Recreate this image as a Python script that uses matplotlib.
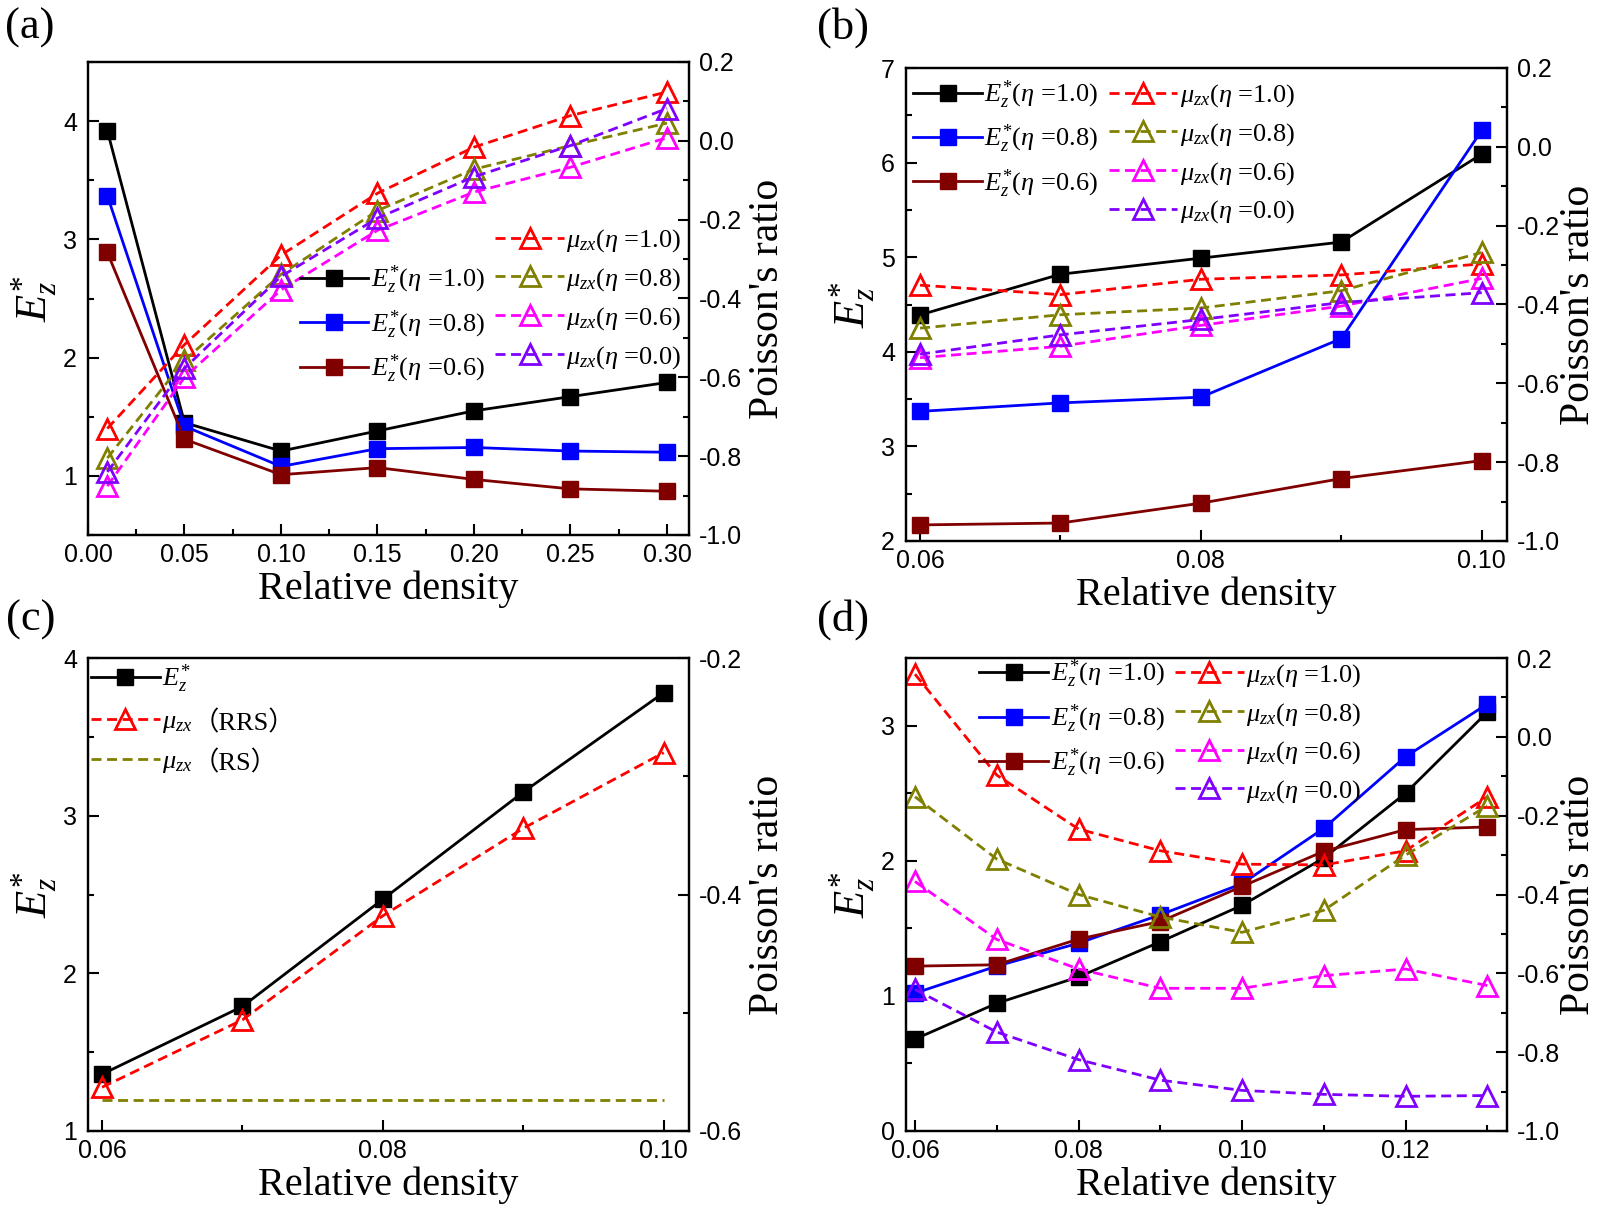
import matplotlib
matplotlib.use("Agg")
import matplotlib.pyplot as plt
from matplotlib.lines import Line2D
from matplotlib.ticker import MultipleLocator, FormatStrFormatter

plt.rcParams['font.family'] = ['Liberation Serif', 'Noto Sans CJK SC']
plt.rcParams['mathtext.fontset'] = 'custom'
plt.rcParams['mathtext.rm'] = 'Liberation Serif'
plt.rcParams['mathtext.it'] = 'Liberation Serif:italic'
plt.rcParams['mathtext.bf'] = 'Liberation Serif:bold'
plt.rcParams['axes.unicode_minus'] = False

# ---- data ----
a_x = [0.01, 0.05, 0.10, 0.15, 0.20, 0.25, 0.30]
a_E10 = [3.92, 1.45, 1.21, 1.38, 1.55, 1.67, 1.79]
a_E08 = [3.37, 1.42, 1.08, 1.23, 1.24, 1.21, 1.20]
a_E06 = [2.89, 1.31, 1.01, 1.07, 0.97, 0.89, 0.87]
a_mu10 = [-0.73, -0.517, -0.29, -0.133, -0.016, 0.064, 0.124]
a_mu08 = [-0.805, -0.557, -0.339, -0.177, -0.072, -0.012, 0.045]
a_mu06 = [-0.876, -0.60, -0.378, -0.227, -0.13, -0.067, 0.008]
a_mu00 = [-0.84, -0.577, -0.344, -0.196, -0.091, -0.012, 0.082]

b_x = [0.06, 0.07, 0.08, 0.09, 0.10]
b_E10 = [4.39, 4.82, 4.99, 5.16, 6.09]
b_E08 = [3.37, 3.46, 3.52, 4.14, 6.34]
b_E06 = [2.17, 2.19, 2.40, 2.66, 2.85]
b_mu10 = [-0.351, -0.375, -0.336, -0.325, -0.297]
b_mu08 = [-0.46, -0.426, -0.409, -0.365, -0.268]
b_mu06 = [-0.535, -0.506, -0.453, -0.404, -0.334]
b_mu00 = [-0.526, -0.477, -0.438, -0.395, -0.37]

c_x = [0.06, 0.07, 0.08, 0.09, 0.10]
c_E = [1.36, 1.79, 2.47, 3.15, 3.78]
c_mu_rrs = [-0.563, -0.506, -0.418, -0.344, -0.28]
c_mu_rs = [-0.574, -0.574, -0.574, -0.574, -0.574]
c_tags = ['（RRS）', '（RS）']

d_x = [0.06, 0.07, 0.08, 0.09, 0.10, 0.11, 0.12, 0.13]
d_E10 = [0.68, 0.945, 1.14, 1.40, 1.67, 2.02, 2.50, 3.10]
d_E08 = [1.02, 1.22, 1.39, 1.60, 1.83, 2.24, 2.77, 3.16]
d_E06 = [1.22, 1.23, 1.42, 1.55, 1.81, 2.07, 2.23, 2.25]
d_mu10 = [0.159, -0.097, -0.234, -0.289, -0.323, -0.325, -0.289, -0.152]
d_mu08 = [-0.152, -0.31, -0.40, -0.457, -0.496, -0.44, -0.30, -0.175]
d_mu06 = [-0.367, -0.514, -0.589, -0.638, -0.638, -0.606, -0.589, -0.631]
d_mu00 = [-0.641, -0.749, -0.819, -0.871, -0.897, -0.907, -0.912, -0.910]

BLACK, BLUE, DRED = '#000000', '#0000FF', '#800000'
RED, OLIVE, MAG, VIOLET = '#FF0000', '#808000', '#FF00FF', '#7F00FF'

TICK_FONT = {'family': 'Liberation Sans', 'size': 18}
LW = 2.0
DASH = (3.6, 2.0)
LEG_FS = 19


def E_line(ax, x, y, color, label):
    return ax.plot(x, y, '-', color=color, lw=LW, marker='s', ms=11,
                   mfc=color, mec=color, label=label)[0]


def mu_line(ax, x, y, color, label, marker=True):
    if marker:
        return ax.plot(x, y, '--', dashes=DASH, color=color, lw=LW, marker='^',
                       ms=14, mfc='none', mec=color, mew=2.0, label=label)[0]
    return ax.plot(x, y, '--', dashes=DASH, color=color, lw=LW, label=label)[0]


def E_lab(eta):
    return r'$E^{*}_{z}$($\eta$ =' + eta + ')'


def mu_lab(eta):
    return r'$\mu_{zx}$($\eta$ =' + eta + ')'


def style(ax, ax2, xmaj, xmin, ymaj, ymin, y2maj, y2min, rpad=5):
    for a in (ax, ax2):
        for s in a.spines.values():
            s.set_linewidth(1.6)
        a.tick_params(which='major', direction='in', length=8, width=1.5, pad=6)
        a.tick_params(which='minor', direction='in', length=4.5, width=1.5)
    ax.tick_params(axis='y', pad=8)
    ax2.tick_params(axis='y', pad=7)
    ax.tick_params(top=False, right=False, which='both')
    ax2.tick_params(top=False, left=False, which='both')
    ax.xaxis.set_major_locator(MultipleLocator(xmaj))
    ax.xaxis.set_minor_locator(MultipleLocator(xmin))
    ax.yaxis.set_major_locator(MultipleLocator(ymaj))
    ax.yaxis.set_minor_locator(MultipleLocator(ymin))
    ax2.yaxis.set_major_locator(MultipleLocator(y2maj))
    ax2.yaxis.set_minor_locator(MultipleLocator(y2min))
    ax.xaxis.set_major_formatter(FormatStrFormatter('%.2f'))
    ax2.yaxis.set_major_formatter(FormatStrFormatter('%.1f'))
    for lab in ax.get_xticklabels() + ax.get_yticklabels() + ax2.get_yticklabels():
        lab.set_fontproperties(TICK_FONT)
    ax.set_xlabel('Relative density', fontsize=29, labelpad=2)
    ax.set_ylabel(r'$E^{*}_{z}$', fontsize=32, labelpad=3)
    ax2.set_ylabel("Poisson's ratio", fontsize=30, labelpad=rpad)


fig = plt.figure(figsize=(16, 12.07), dpi=100)
W, H = 601 / 1600, 473 / 1207
blank = Line2D([], [], color='none', label=' ')
leg_kw = dict(frameon=False, fontsize=LEG_FS, ncol=2, handlelength=2.6, handletextpad=0.1,
              columnspacing=0.4, labelspacing=0.45, borderpad=0, borderaxespad=0,
              numpoints=1)

# ---- (a) ----
ax = fig.add_axes([88 / 1600, 1 - 535 / 1207, W, H])
ax2 = ax.twinx()
h1 = E_line(ax, a_x, a_E10, BLACK, E_lab('1.0'))
h2 = E_line(ax, a_x, a_E08, BLUE, E_lab('0.8'))
h3 = E_line(ax, a_x, a_E06, DRED, E_lab('0.6'))
m1 = mu_line(ax2, a_x, a_mu10, RED, mu_lab('1.0'))
m2 = mu_line(ax2, a_x, a_mu08, OLIVE, mu_lab('0.8'))
m3 = mu_line(ax2, a_x, a_mu06, MAG, mu_lab('0.6'))
m4 = mu_line(ax2, a_x, a_mu00, VIOLET, mu_lab('0.0'))
ax.set_xlim(0, 0.3114)
ax.set_ylim(0.5, 4.5)
ax2.set_ylim(-1.0, 0.2)
style(ax, ax2, 0.05, 0.025, 1, 0.5, 0.2, 0.1)
ax2.legend(handles=[blank, h1, h2, h3, m1, m2, m3, m4],
           loc='upper left', bbox_to_anchor=(0.352, 0.650), **leg_kw)
fig.text(30 / 1600, 1 - 28 / 1207, '(a)', fontsize=32, ha='center', va='center')

# ---- (b) ----
ax = fig.add_axes([906 / 1600, 1 - 541 / 1207, W, H])
ax2 = ax.twinx()
h1 = E_line(ax, b_x, b_E10, BLACK, E_lab('1.0'))
h2 = E_line(ax, b_x, b_E08, BLUE, E_lab('0.8'))
h3 = E_line(ax, b_x, b_E06, DRED, E_lab('0.6'))
m1 = mu_line(ax2, b_x, b_mu10, RED, mu_lab('1.0'))
m2 = mu_line(ax2, b_x, b_mu08, OLIVE, mu_lab('0.8'))
m3 = mu_line(ax2, b_x, b_mu06, MAG, mu_lab('0.6'))
m4 = mu_line(ax2, b_x, b_mu00, VIOLET, mu_lab('0.0'))
ax.set_xlim(0.0590, 0.1018)
ax.set_ylim(2, 7)
ax2.set_ylim(-1.0, 0.2)
style(ax, ax2, 0.02, 0.01, 1, 0.5, 0.2, 0.1, rpad=0)
ax2.legend(handles=[h1, h2, h3, blank, m1, m2, m3, m4],
           loc='upper left', bbox_to_anchor=(0.012, 0.978), **leg_kw)
fig.text(843 / 1600, 1 - 28 / 1207, '(b)', fontsize=32, ha='center', va='center')

# ---- (c) ----
ax = fig.add_axes([88 / 1600, 1 - 1131 / 1207, W, H])
ax2 = ax.twinx()
h1 = E_line(ax, c_x, c_E, BLACK, r'$E^{*}_{z}$')
m1 = mu_line(ax2, c_x, c_mu_rrs, RED, r'$\mu_{zx}$')
m2 = mu_line(ax2, c_x, c_mu_rs, OLIVE, r'$\mu_{zx}$', marker=False)
ax.set_xlim(0.0590, 0.1018)
ax.set_ylim(1, 4)
ax2.set_ylim(-0.6, -0.2)
style(ax, ax2, 0.02, 0.01, 1, 0.5, 0.2, 0.1)
kw_c = dict(leg_kw)
kw_c['ncol'] = 1
kw_c['labelspacing'] = 0.55
leg_c = ax2.legend(handles=[h1, m1, m2], loc='upper left',
                   bbox_to_anchor=(0.005, 0.99), **kw_c)
fig.text(31 / 1600, 1 - 620 / 1207, '(c)', fontsize=32, ha='center', va='center')

# ---- (d) ----
ax = fig.add_axes([906 / 1600, 1 - 1131 / 1207, W, H])
ax2 = ax.twinx()
h1 = E_line(ax, d_x, d_E10, BLACK, E_lab('1.0'))
h2 = E_line(ax, d_x, d_E08, BLUE, E_lab('0.8'))
h3 = E_line(ax, d_x, d_E06, DRED, E_lab('0.6'))
m1 = mu_line(ax2, d_x, d_mu10, RED, mu_lab('1.0'))
m2 = mu_line(ax2, d_x, d_mu08, OLIVE, mu_lab('0.8'))
m3 = mu_line(ax2, d_x, d_mu06, MAG, mu_lab('0.6'))
m4 = mu_line(ax2, d_x, d_mu00, VIOLET, mu_lab('0.0'))
ax.set_xlim(0.0589, 0.1324)
ax.set_ylim(0, 3.5)
ax2.set_ylim(-1.0, 0.2)
style(ax, ax2, 0.02, 0.01, 1, 0.5, 0.2, 0.1, rpad=0)
ax2.legend(handles=[h1, h2, h3, blank, m1, m2, m3, m4],
           loc='upper left', bbox_to_anchor=(0.122, 1.0), **leg_kw)
fig.text(843 / 1600, 1 - 620 / 1207, '(d)', fontsize=32, ha='center', va='center')

# full-width brackets after the mu labels in (c): mathtext has no CJK fallback,
# so they are set as plain text right after the legend entries
fig.canvas.draw()
rend = fig.canvas.get_renderer()
for t, tag in zip(leg_c.get_texts()[1:], c_tags):
    bb = t.get_window_extent(rend)
    fig.text(bb.x1 / 1600, (bb.y0 + 0.58 * bb.height) / 1207, tag,
             fontsize=LEG_FS, ha='left', va='center',
             family=['Liberation Serif', 'Noto Sans CJK SC'])

fig.savefig('out.png', dpi=100)
